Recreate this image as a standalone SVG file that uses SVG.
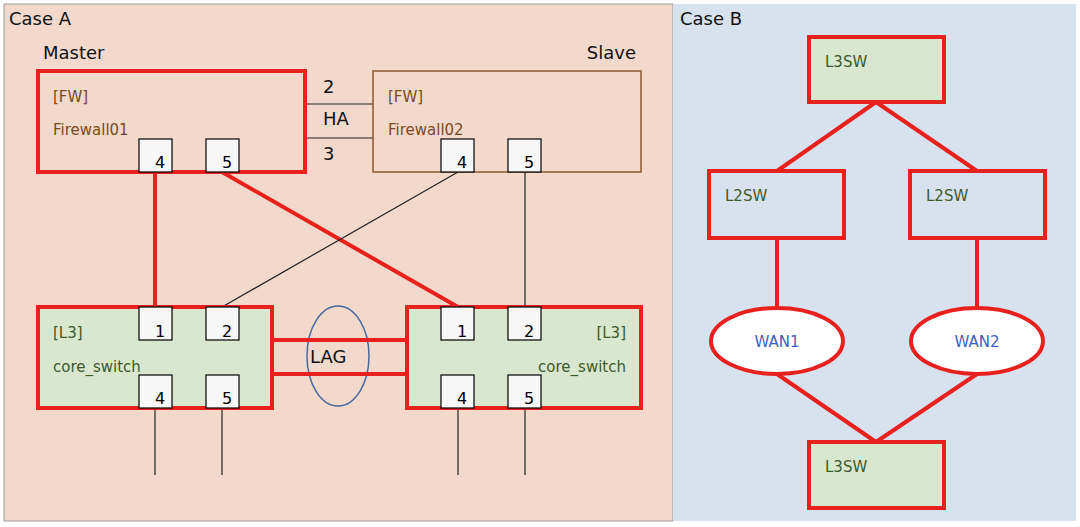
<svg xmlns="http://www.w3.org/2000/svg" width="1080" height="527" viewBox="0 0 1080 527">
<style>
text{font-family:Tahoma,"DejaVu Sans",sans-serif}
.port{fill:#f7f7f7;stroke:#000;stroke-width:1.2}
.pt{font-size:16px;fill:#000;text-anchor:middle}
.red{fill:none;stroke:#e8201e;stroke-width:4}
.thin{stroke:#222;stroke-width:1.2;fill:none}
.lbl{font-size:18px;fill:#111}
.g{font-size:15px;fill:#3d5a2c}
.b{font-size:15px;fill:#7a4a24}
</style>
<rect width="1080" height="527" fill="#fff"/>
<rect x="4" y="4" width="669" height="517" fill="#f3d9cc" stroke="#999"/>
<rect x="673" y="4" width="403" height="517" fill="#d7e2ee"/>
<text x="9" y="25" class="lbl">Case A</text>
<text x="680" y="25" class="lbl">Case B</text>
<text x="43" y="59" class="lbl">Master</text>
<text x="636" y="59" class="lbl" text-anchor="end">Slave</text>
<g id="connectors">
<line x1="305" y1="104" x2="373" y2="104" class="thin"/>
<line x1="305" y1="138" x2="373" y2="138" class="thin"/>
<line x1="155" y1="172" x2="155" y2="307" class="red"/>
<line x1="222" y1="172" x2="458" y2="307" class="red"/>
<line x1="458" y1="172" x2="222" y2="307" class="thin"/>
<line x1="525" y1="172" x2="525" y2="307" class="thin"/>
<ellipse cx="338" cy="356" rx="31" ry="50" fill="none" stroke="#4a67a0" stroke-width="1.5"/>
<line x1="272" y1="340" x2="407" y2="340" class="red"/>
<line x1="272" y1="374" x2="407" y2="374" class="red"/>
<line x1="155" y1="408" x2="155" y2="475" class="thin"/>
<line x1="222" y1="408" x2="222" y2="475" class="thin"/>
<line x1="458" y1="408" x2="458" y2="475" class="thin"/>
<line x1="525" y1="408" x2="525" y2="475" class="thin"/>
<line x1="876" y1="102" x2="777" y2="171" class="red"/>
<line x1="876" y1="102" x2="977" y2="171" class="red"/>
<line x1="777" y1="238" x2="777" y2="308" class="red"/>
<line x1="977" y1="238" x2="977" y2="308" class="red"/>
<line x1="777" y1="374" x2="876" y2="442" class="red"/>
<line x1="977" y1="374" x2="876" y2="442" class="red"/>
</g>
<text x="323" y="93" class="lbl">2</text>
<text x="323" y="125" class="lbl">HA</text>
<text x="323" y="160" class="lbl">3</text>
<text x="310" y="363" class="lbl">LAG</text>
<g id="fw01">
<rect x="38" y="71" width="267" height="101" class="red"/>
<text x="53" y="102" class="b">[FW]</text>
<text x="53" y="135" class="b">Firewall01</text>
<rect x="139" y="139" width="33" height="33" class="port"/><text x="160" y="168" class="pt">4</text>
<rect x="206" y="139" width="33" height="33" class="port"/><text x="227" y="168" class="pt">5</text>
</g>
<g id="fw02">
<rect x="373" y="71" width="268" height="101" fill="none" stroke="#8b5a30" stroke-width="1.5"/>
<text x="388" y="102" class="b">[FW]</text>
<text x="388" y="135" class="b">Firewall02</text>
<rect x="441" y="139" width="33" height="33" class="port"/><text x="462" y="168" class="pt">4</text>
<rect x="508" y="139" width="33" height="33" class="port"/><text x="529" y="168" class="pt">5</text>
</g>
<g id="core1">
<rect x="38" y="307" width="234" height="101" fill="#d9e7cf" stroke="#e8201e" stroke-width="4"/>
<text x="53" y="338" class="g">[L3]</text>
<text x="53" y="372" class="g">core_switch</text>
<rect x="139" y="307" width="33" height="33" class="port"/><text x="160" y="337" class="pt">1</text>
<rect x="206" y="307" width="33" height="33" class="port"/><text x="227" y="337" class="pt">2</text>
<rect x="139" y="375" width="33" height="33" class="port"/><text x="160" y="404" class="pt">4</text>
<rect x="206" y="375" width="33" height="33" class="port"/><text x="227" y="404" class="pt">5</text>
</g>
<g id="core2">
<rect x="407" y="307" width="234" height="101" fill="#d9e7cf" stroke="#e8201e" stroke-width="4"/>
<text x="626" y="338" class="g" text-anchor="end">[L3]</text>
<text x="626" y="372" class="g" text-anchor="end">core_switch</text>
<rect x="441" y="307" width="33" height="33" class="port"/><text x="462" y="337" class="pt">1</text>
<rect x="508" y="307" width="33" height="33" class="port"/><text x="529" y="337" class="pt">2</text>
<rect x="441" y="375" width="33" height="33" class="port"/><text x="462" y="404" class="pt">4</text>
<rect x="508" y="375" width="33" height="33" class="port"/><text x="529" y="404" class="pt">5</text>
</g>
<g id="l3top"><rect x="809" y="37" width="135" height="65" fill="#d9e7cf" stroke="#e8201e" stroke-width="4"/><text x="825" y="67" class="g">L3SW</text></g>
<g id="l2left"><rect x="709" y="171" width="135" height="67" fill="#d7e2ee" stroke="#e8201e" stroke-width="4"/><text x="725" y="201" class="g">L2SW</text></g>
<g id="l2right"><rect x="910" y="171" width="135" height="67" fill="#d7e2ee" stroke="#e8201e" stroke-width="4"/><text x="926" y="201" class="g">L2SW</text></g>
<g id="wan1"><ellipse cx="777" cy="341" rx="66" ry="33" fill="#fff" stroke="#e8201e" stroke-width="4"/><text x="777" y="347" font-size="15" fill="#3a62c4" text-anchor="middle">WAN1</text></g>
<g id="wan2"><ellipse cx="977" cy="341" rx="66" ry="33" fill="#fff" stroke="#e8201e" stroke-width="4"/><text x="977" y="347" font-size="15" fill="#3a62c4" text-anchor="middle">WAN2</text></g>
<g id="l3bot"><rect x="809" y="442" width="135" height="66" fill="#d9e7cf" stroke="#e8201e" stroke-width="4"/><text x="825" y="472" class="g">L3SW</text></g>
</svg>
